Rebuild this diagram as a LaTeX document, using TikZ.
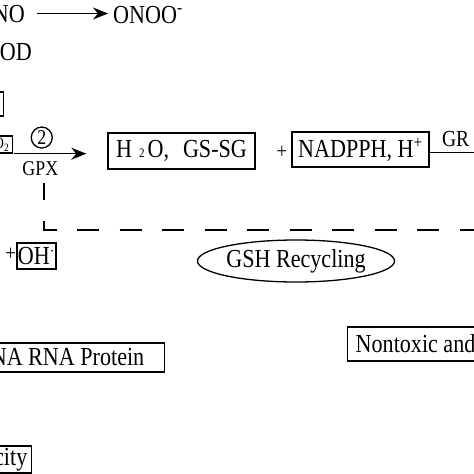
\documentclass[tikz,border=0pt]{standalone}
\usepackage{fontspec}
\setmainfont{Liberation Serif}[FakeStretch=0.85]
\usetikzlibrary{arrows.meta, shapes.geometric}
\newcommand{\mainsize}{\fontsize{26}{30}\selectfont}
\newcommand{\labsize}{\fontsize{21}{24}\selectfont}

\begin{document}
\begin{tikzpicture}[x=1pt, y=-1pt,
  box/.style={draw, line width=1.4pt, inner sep=2pt, font=\mainsize},
  txt/.style={inner sep=0pt, font=\mainsize},
  arr/.style={line width=1.4pt, -{Stealth[length=15pt, width=12pt]}}]
  \useasboundingbox (0, 0) rectangle (474, 474);
  \clip (0, 0) rectangle (474, 474);

  % first row
  \node[txt, anchor=base east] (no) at (25, 22) {NO};
  \node[txt, anchor=base west] (onoo) at (113, 23) {ONOO\textsuperscript{-}};
  \draw[arr, shorten <=12pt, shorten >=5pt] (no.east) -- (no.east -| onoo.west);
  \node[txt, anchor=base east] (sod) at (32, 60) {SOD};

  % boxes cut at the left
  \node[box, anchor=east, minimum width=80, minimum height=24] (top) at (4, 104) {};
  \node[box, anchor=east, font=\fontsize{16}{18}\selectfont, minimum height=17, inner xsep=3pt, inner ysep=1pt] (hoo) at (13, 144.5) {H\textsubscript{2}O\textsubscript{2}};

  \node[box, minimum width=147, minimum height=36] (gssg) at (181.5, 151)
    {H\hspace{7pt}{\fontsize{13}{15}\selectfont 2}\hspace{3pt}O,\hspace{14pt}GS-SG};
  \draw[arr, shorten <=1pt, shorten >=21pt] (hoo.south east) -- (hoo.south east -| gssg.west)
    node[pos=0.305, above=5pt, circle, draw, line width=1.3pt, inner sep=0pt, minimum size=21pt, font=\labsize] (two) {2}
    node[pos=0.29, below=7pt, inner sep=0pt, font=\labsize] (gpx) {GPX};

  \node[txt, font=\fontsize{22}{25}\selectfont] (plusa) at (282, 152) {+};
  \node[box, minimum width=137, minimum height=35] (nadph) at (360.5, 149.5) {NADPPH, H\textsuperscript{+}};

  \coordinate (grend) at (490, 152.5);
  \draw[line width=1.3pt] (nadph.east |- grend) -- (grend)
    node[pos=0.43, above=5pt, inner sep=0pt, font=\fontsize{23}{26}\selectfont] (gr) {GR};

  % recycling loop
  \coordinate (loopstart) at (44, 183);
  \coordinate (loopend) at (490, 230);
  \draw[line width=1.7pt, dash pattern=on 22pt off 20.5pt, dash phase=5pt] (loopstart) |- (loopend);

  \node[box, minimum width=39, minimum height=26, inner sep=1pt] (oh) at (36.5, 256) {OH\textsuperscript{$\cdot$}};
  \node[txt, anchor=east, font=\fontsize{22}{25}\selectfont] (plusb) at ([yshift=2pt]oh.west) {+};

  \node[ellipse, draw, line width=1.3pt, minimum width=172, minimum height=42, inner sep=0pt, font=\mainsize] (recycle) at (296, 261) {GSH Recycling};

  % bottom boxes
  \node[box, anchor=east, inner xsep=20pt, minimum height=29] (dna) at (165, 357.5) {DNA RNA Protein};
  \node[box, anchor=west, inner xsep=8pt, minimum height=34] (nontox) at (347, 344) {Nontoxic and\hspace*{80pt}};
  \node[box, anchor=east, minimum height=25, inner xsep=4pt] (tox) at (32, 459.5) {Toxicity};

\end{tikzpicture}
\end{document}
